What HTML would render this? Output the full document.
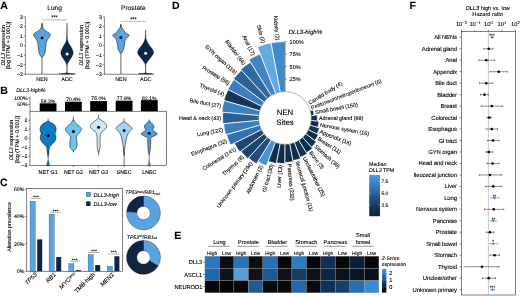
<!DOCTYPE html>
<html><head><meta charset="utf-8"><style>
html,body{margin:0;padding:0;background:#fff;}
svg{display:block;}
text{font-family:"Liberation Sans", Arial, sans-serif;text-rendering:geometricPrecision;stroke:currentColor;stroke-width:0.1px;}
</style></head><body>
<svg width="520" height="296" viewBox="0 0 520 296">
<rect width="520" height="296" fill="#fff"/>
<text x="0.20" y="8.70" font-size="10.6" text-anchor="start" font-weight="bold">A</text>
<text x="0.30" y="93.60" font-size="10.6" text-anchor="start" font-weight="bold">B</text>
<text x="0.10" y="185.70" font-size="10.6" text-anchor="start" font-weight="bold">C</text>
<text x="172.00" y="8.90" font-size="10.6" text-anchor="start" font-weight="bold">D</text>
<text x="174.30" y="239.30" font-size="10.6" text-anchor="start" font-weight="bold">E</text>
<text x="409.40" y="8.80" font-size="10.6" text-anchor="start" font-weight="bold">F</text>
<line x1="25.40" y1="16.70" x2="25.40" y2="74.50" stroke="#000" stroke-width="0.5"/>
<line x1="23.80" y1="16.95" x2="25.40" y2="16.95" stroke="#000" stroke-width="0.45"/>
<text x="23.00" y="18.80" font-size="5.2" text-anchor="end">3</text>
<line x1="23.80" y1="26.50" x2="25.40" y2="26.50" stroke="#000" stroke-width="0.45"/>
<text x="23.00" y="28.35" font-size="5.2" text-anchor="end">2</text>
<line x1="23.80" y1="36.05" x2="25.40" y2="36.05" stroke="#000" stroke-width="0.45"/>
<text x="23.00" y="37.90" font-size="5.2" text-anchor="end">1</text>
<line x1="23.80" y1="45.60" x2="25.40" y2="45.60" stroke="#000" stroke-width="0.45"/>
<text x="23.00" y="47.45" font-size="5.2" text-anchor="end">0</text>
<line x1="23.80" y1="55.15" x2="25.40" y2="55.15" stroke="#000" stroke-width="0.45"/>
<text x="23.00" y="57.00" font-size="5.2" text-anchor="end">&#8722;1</text>
<line x1="23.80" y1="64.70" x2="25.40" y2="64.70" stroke="#000" stroke-width="0.45"/>
<text x="23.00" y="66.55" font-size="5.2" text-anchor="end">&#8722;2</text>
<line x1="23.80" y1="74.25" x2="25.40" y2="74.25" stroke="#000" stroke-width="0.45"/>
<text x="23.00" y="76.10" font-size="5.2" text-anchor="end">&#8722;3</text>
<line x1="25.40" y1="74.25" x2="75.50" y2="74.25" stroke="#000" stroke-width="0.5"/>
<text x="54.60" y="10.00" font-size="6.6" text-anchor="middle">Lung</text>
<line x1="41.70" y1="19.90" x2="67.30" y2="19.90" stroke="#aaa" stroke-width="0.8"/>
<text x="54.50" y="19.05" font-size="5.5" text-anchor="middle">***</text>
<text x="5.00" y="45.30" font-size="5.4" text-anchor="middle" transform="rotate(-90 5.00 45.30)"><tspan font-style="italic">DLL3</tspan> expression</text>
<text x="10.50" y="45.30" font-size="5.5" text-anchor="middle" transform="rotate(-90 10.50 45.30)">[log (TPM + 0.001)]</text>
<text x="42.00" y="80.60" font-size="5.4" text-anchor="middle">NEN</text>
<text x="67.00" y="80.60" font-size="5.4" text-anchor="middle">ADC</text>
<line x1="104.40" y1="16.70" x2="104.40" y2="74.50" stroke="#000" stroke-width="0.5"/>
<line x1="102.80" y1="16.95" x2="104.40" y2="16.95" stroke="#000" stroke-width="0.45"/>
<text x="102.00" y="18.80" font-size="5.2" text-anchor="end">3</text>
<line x1="102.80" y1="26.50" x2="104.40" y2="26.50" stroke="#000" stroke-width="0.45"/>
<text x="102.00" y="28.35" font-size="5.2" text-anchor="end">2</text>
<line x1="102.80" y1="36.05" x2="104.40" y2="36.05" stroke="#000" stroke-width="0.45"/>
<text x="102.00" y="37.90" font-size="5.2" text-anchor="end">1</text>
<line x1="102.80" y1="45.60" x2="104.40" y2="45.60" stroke="#000" stroke-width="0.45"/>
<text x="102.00" y="47.45" font-size="5.2" text-anchor="end">0</text>
<line x1="102.80" y1="55.15" x2="104.40" y2="55.15" stroke="#000" stroke-width="0.45"/>
<text x="102.00" y="57.00" font-size="5.2" text-anchor="end">&#8722;1</text>
<line x1="102.80" y1="64.70" x2="104.40" y2="64.70" stroke="#000" stroke-width="0.45"/>
<text x="102.00" y="66.55" font-size="5.2" text-anchor="end">&#8722;2</text>
<line x1="102.80" y1="74.25" x2="104.40" y2="74.25" stroke="#000" stroke-width="0.45"/>
<text x="102.00" y="76.10" font-size="5.2" text-anchor="end">&#8722;3</text>
<line x1="104.40" y1="74.25" x2="154.30" y2="74.25" stroke="#000" stroke-width="0.5"/>
<text x="133.30" y="10.00" font-size="6.6" text-anchor="middle">Prostate</text>
<line x1="120.60" y1="21.35" x2="146.10" y2="21.35" stroke="#aaa" stroke-width="0.8"/>
<text x="133.35" y="20.50" font-size="5.5" text-anchor="middle">***</text>
<text x="83.20" y="45.30" font-size="5.4" text-anchor="middle" transform="rotate(-90 83.20 45.30)"><tspan font-style="italic">DLL3</tspan> expression</text>
<text x="88.60" y="45.30" font-size="5.5" text-anchor="middle" transform="rotate(-90 88.60 45.30)">[log (TPM + 0.001)]</text>
<text x="120.90" y="80.60" font-size="5.4" text-anchor="middle">NEN</text>
<text x="145.80" y="80.60" font-size="5.4" text-anchor="middle">ADC</text>
<line x1="42.00" y1="22.90" x2="42.00" y2="74.00" stroke="#333" stroke-width="0.75"/>
<path d="M42.00,23.50 C42.08,24.05 42.23,25.88 42.50,26.80 C42.77,27.72 42.98,28.27 43.60,29.00 C44.22,29.73 45.30,30.53 46.20,31.20 C47.10,31.87 48.30,32.43 49.00,33.00 C49.70,33.57 50.25,34.07 50.40,34.60 C50.55,35.13 50.20,35.63 49.90,36.20 C49.60,36.77 49.15,37.12 48.60,38.00 C48.05,38.88 47.03,40.42 46.60,41.50 C46.17,42.58 46.15,43.52 46.00,44.50 C45.85,45.48 45.83,46.27 45.70,47.40 C45.57,48.53 45.40,50.15 45.20,51.30 C45.00,52.45 44.83,53.48 44.50,54.30 C44.17,55.12 43.62,55.68 43.20,56.20 C42.78,56.72 42.20,57.20 42.00,57.40 L42.00,57.40 C41.80,57.20 41.22,56.72 40.80,56.20 C40.38,55.68 39.83,55.12 39.50,54.30 C39.17,53.48 39.00,52.45 38.80,51.30 C38.60,50.15 38.43,48.53 38.30,47.40 C38.17,46.27 38.15,45.48 38.00,44.50 C37.85,43.52 37.83,42.58 37.40,41.50 C36.97,40.42 35.95,38.88 35.40,38.00 C34.85,37.12 34.40,36.77 34.10,36.20 C33.80,35.63 33.45,35.13 33.60,34.60 C33.75,34.07 34.30,33.57 35.00,33.00 C35.70,32.43 36.90,31.87 37.80,31.20 C38.70,30.53 39.78,29.73 40.40,29.00 C41.02,28.27 41.23,27.72 41.50,26.80 C41.77,25.88 41.92,24.05 42.00,23.50 Z" fill="#58a3e0" stroke="#111" stroke-width="0.55" stroke-linejoin="round"/>
<circle cx="42.10" cy="38.00" r="1.45" fill="#000"/>
<path d="M67.00,22.90 C67.02,23.08 67.09,22.82 67.12,24.00 C67.15,25.18 67.17,28.00 67.20,30.00 C67.23,32.00 67.24,34.40 67.30,36.00 C67.36,37.60 67.37,38.52 67.55,39.60 C67.73,40.68 67.96,41.52 68.40,42.50 C68.84,43.48 69.53,44.35 70.20,45.50 C70.87,46.65 71.90,48.10 72.40,49.40 C72.90,50.70 73.32,52.00 73.20,53.30 C73.08,54.60 72.30,56.05 71.70,57.20 C71.10,58.35 70.22,59.22 69.60,60.20 C68.98,61.18 68.38,62.30 68.00,63.10 C67.62,63.90 67.48,64.18 67.35,65.00 C67.22,65.82 67.22,66.83 67.20,68.00 C67.18,69.17 67.12,71.18 67.25,72.00 C67.38,72.82 67.12,72.63 68.00,72.90 C68.88,73.17 71.37,73.42 72.50,73.60 C73.63,73.78 75.72,73.92 74.80,74.00 C73.88,74.08 68.30,74.08 67.00,74.10 L67.00,74.10 C65.70,74.08 60.12,74.08 59.20,74.00 C58.28,73.92 60.37,73.78 61.50,73.60 C62.63,73.42 65.12,73.17 66.00,72.90 C66.88,72.63 66.62,72.82 66.75,72.00 C66.88,71.18 66.82,69.17 66.80,68.00 C66.78,66.83 66.78,65.82 66.65,65.00 C66.52,64.18 66.38,63.90 66.00,63.10 C65.62,62.30 65.02,61.18 64.40,60.20 C63.78,59.22 62.90,58.35 62.30,57.20 C61.70,56.05 60.92,54.60 60.80,53.30 C60.68,52.00 61.10,50.70 61.60,49.40 C62.10,48.10 63.13,46.65 63.80,45.50 C64.47,44.35 65.16,43.48 65.60,42.50 C66.04,41.52 66.27,40.68 66.45,39.60 C66.63,38.52 66.64,37.60 66.70,36.00 C66.76,34.40 66.77,32.00 66.80,30.00 C66.83,28.00 66.85,25.18 66.88,24.00 C66.91,22.82 66.98,23.08 67.00,22.90 Z" fill="#0f2742" stroke="#111" stroke-width="0.3" stroke-linejoin="round"/>
<circle cx="67.10" cy="53.90" r="1.50" fill="#fff"/>
<line x1="120.90" y1="23.90" x2="120.90" y2="74.00" stroke="#333" stroke-width="0.75"/>
<path d="M120.90,24.50 C120.98,24.88 120.98,25.92 121.40,26.80 C121.82,27.68 122.72,28.82 123.40,29.80 C124.08,30.78 124.57,31.85 125.50,32.70 C126.43,33.55 128.63,34.18 129.00,34.90 C129.37,35.62 128.22,36.32 127.70,37.00 C127.18,37.68 126.33,38.37 125.90,39.00 C125.47,39.63 125.32,40.05 125.10,40.80 C124.88,41.55 124.77,42.57 124.60,43.50 C124.43,44.43 124.28,45.42 124.10,46.40 C123.92,47.38 123.85,48.42 123.50,49.40 C123.15,50.38 122.43,51.62 122.00,52.30 C121.57,52.98 121.08,53.30 120.90,53.50 L120.90,53.50 C120.72,53.30 120.23,52.98 119.80,52.30 C119.37,51.62 118.65,50.38 118.30,49.40 C117.95,48.42 117.88,47.38 117.70,46.40 C117.52,45.42 117.37,44.43 117.20,43.50 C117.03,42.57 116.92,41.55 116.70,40.80 C116.48,40.05 116.33,39.63 115.90,39.00 C115.47,38.37 114.62,37.68 114.10,37.00 C113.58,36.32 112.43,35.62 112.80,34.90 C113.17,34.18 115.37,33.55 116.30,32.70 C117.23,31.85 117.72,30.78 118.40,29.80 C119.08,28.82 119.98,27.68 120.40,26.80 C120.82,25.92 120.82,24.88 120.90,24.50 Z" fill="#58a3e0" stroke="#111" stroke-width="0.55" stroke-linejoin="round"/>
<circle cx="120.90" cy="37.60" r="1.45" fill="#000"/>
<path d="M145.60,29.80 C145.62,30.00 145.68,30.13 145.72,31.00 C145.76,31.87 145.79,33.73 145.85,35.00 C145.91,36.27 145.81,37.35 146.10,38.60 C146.39,39.85 147.02,41.35 147.60,42.50 C148.18,43.65 148.77,44.35 149.60,45.50 C150.43,46.65 151.93,48.17 152.60,49.40 C153.27,50.63 153.77,51.77 153.60,52.90 C153.43,54.03 152.35,55.08 151.60,56.20 C150.85,57.32 149.90,58.52 149.10,59.60 C148.30,60.68 147.32,61.88 146.80,62.70 C146.27,63.52 146.12,63.62 145.95,64.50 C145.78,65.38 145.82,66.72 145.80,68.00 C145.78,69.28 145.73,71.37 145.85,72.20 C145.97,73.03 145.74,72.77 146.50,73.00 C147.26,73.23 149.40,73.43 150.40,73.60 C151.40,73.77 153.30,73.92 152.50,74.00 C151.70,74.08 146.75,74.08 145.60,74.10 L145.60,74.10 C144.45,74.08 139.50,74.08 138.70,74.00 C137.90,73.92 139.80,73.77 140.80,73.60 C141.80,73.43 143.94,73.23 144.70,73.00 C145.46,72.77 145.23,73.03 145.35,72.20 C145.47,71.37 145.42,69.28 145.40,68.00 C145.38,66.72 145.42,65.38 145.25,64.50 C145.08,63.62 144.93,63.52 144.40,62.70 C143.88,61.88 142.90,60.68 142.10,59.60 C141.30,58.52 140.35,57.32 139.60,56.20 C138.85,55.08 137.77,54.03 137.60,52.90 C137.43,51.77 137.93,50.63 138.60,49.40 C139.27,48.17 140.77,46.65 141.60,45.50 C142.43,44.35 143.02,43.65 143.60,42.50 C144.18,41.35 144.81,39.85 145.10,38.60 C145.39,37.35 145.29,36.27 145.35,35.00 C145.41,33.73 145.44,31.87 145.48,31.00 C145.52,30.13 145.58,30.00 145.60,29.80 Z" fill="#0f2742" stroke="#111" stroke-width="0.3" stroke-linejoin="round"/>
<circle cx="145.60" cy="53.30" r="1.50" fill="#fff"/>
<text x="16.30" y="92.30" font-size="5.3" text-anchor="start" font-style="italic">DLL3-high%</text>
<line x1="30.00" y1="96.50" x2="30.00" y2="111.20" stroke="#000" stroke-width="0.5"/>
<line x1="28.40" y1="97.75" x2="30.00" y2="97.75" stroke="#000" stroke-width="0.45"/>
<text x="27.60" y="99.55" font-size="5.2" text-anchor="end">100%</text>
<line x1="28.40" y1="104.50" x2="30.00" y2="104.50" stroke="#000" stroke-width="0.45"/>
<text x="27.60" y="106.30" font-size="5.2" text-anchor="end">50%</text>
<rect x="39.70" y="103.33" width="16.80" height="7.87" fill="#000"/>
<text x="48.10" y="102.73" font-size="5.1" text-anchor="middle">58.3%</text>
<rect x="65.00" y="101.70" width="16.80" height="9.50" fill="#000"/>
<text x="73.40" y="101.10" font-size="5.1" text-anchor="middle">70.4%</text>
<rect x="90.20" y="101.08" width="16.80" height="10.12" fill="#000"/>
<text x="98.60" y="100.48" font-size="5.1" text-anchor="middle">75.0%</text>
<rect x="115.70" y="100.70" width="16.80" height="10.50" fill="#000"/>
<text x="124.10" y="100.10" font-size="5.1" text-anchor="middle">77.8%</text>
<rect x="140.90" y="100.12" width="16.80" height="11.08" fill="#000"/>
<text x="149.30" y="99.52" font-size="5.1" text-anchor="middle">82.1%</text>
<rect x="30" y="111.2" width="136.6" height="54.3" fill="none" stroke="#000" stroke-width="0.5"/>
<line x1="28.40" y1="120.30" x2="30.00" y2="120.30" stroke="#000" stroke-width="0.45"/>
<text x="27.40" y="122.15" font-size="5.2" text-anchor="end">2</text>
<line x1="28.40" y1="129.30" x2="30.00" y2="129.30" stroke="#000" stroke-width="0.45"/>
<text x="27.40" y="131.15" font-size="5.2" text-anchor="end">1</text>
<line x1="28.40" y1="138.30" x2="30.00" y2="138.30" stroke="#000" stroke-width="0.45"/>
<text x="27.40" y="140.15" font-size="5.2" text-anchor="end">0</text>
<line x1="28.40" y1="147.30" x2="30.00" y2="147.30" stroke="#000" stroke-width="0.45"/>
<text x="27.40" y="149.15" font-size="5.2" text-anchor="end">&#8722;1</text>
<line x1="28.40" y1="156.30" x2="30.00" y2="156.30" stroke="#000" stroke-width="0.45"/>
<text x="27.40" y="158.15" font-size="5.2" text-anchor="end">&#8722;2</text>
<line x1="28.40" y1="165.30" x2="30.00" y2="165.30" stroke="#000" stroke-width="0.45"/>
<text x="27.40" y="167.15" font-size="5.2" text-anchor="end">&#8722;3</text>
<text x="12.80" y="139.90" font-size="5.4" text-anchor="middle" transform="rotate(-90 12.80 139.90)"><tspan font-style="italic">DLL3</tspan> expression</text>
<text x="18.60" y="139.50" font-size="5.5" text-anchor="middle" transform="rotate(-90 18.60 139.50)">[log (TPM + 0.001)]</text>
<text x="48.10" y="174.20" font-size="5.3" text-anchor="middle">NET G1</text>
<line x1="48.10" y1="165.50" x2="48.10" y2="167.00" stroke="#000" stroke-width="0.45"/>
<text x="73.40" y="174.20" font-size="5.3" text-anchor="middle">NET G2</text>
<line x1="73.40" y1="165.50" x2="73.40" y2="167.00" stroke="#000" stroke-width="0.45"/>
<text x="98.60" y="174.20" font-size="5.3" text-anchor="middle">NET G3</text>
<line x1="98.60" y1="165.50" x2="98.60" y2="167.00" stroke="#000" stroke-width="0.45"/>
<text x="124.10" y="174.20" font-size="5.3" text-anchor="middle">SNEC</text>
<line x1="124.10" y1="165.50" x2="124.10" y2="167.00" stroke="#000" stroke-width="0.45"/>
<text x="149.30" y="174.20" font-size="5.3" text-anchor="middle">LNEC</text>
<line x1="149.30" y1="165.50" x2="149.30" y2="167.00" stroke="#000" stroke-width="0.45"/>
<line x1="48.10" y1="118.50" x2="48.10" y2="165.50" stroke="#333" stroke-width="0.7"/>
<path d="M48.10,121.00 C48.27,121.10 48.48,121.25 49.10,121.60 C49.72,121.95 50.88,122.53 51.80,123.10 C52.72,123.67 53.92,124.22 54.60,125.00 C55.28,125.78 55.65,126.88 55.90,127.80 C56.15,128.72 56.23,129.58 56.10,130.50 C55.97,131.42 55.20,132.52 55.10,133.30 C55.00,134.08 55.35,134.42 55.50,135.20 C55.65,135.98 56.15,136.92 56.00,138.00 C55.85,139.08 55.30,140.62 54.60,141.70 C53.90,142.78 52.63,143.57 51.80,144.50 C50.97,145.43 50.07,146.22 49.60,147.30 C49.13,148.38 49.18,149.77 49.00,151.00 C48.82,152.23 48.65,153.78 48.50,154.70 C48.35,155.62 48.17,156.20 48.10,156.50 L48.10,156.50 C48.03,156.20 47.85,155.62 47.70,154.70 C47.55,153.78 47.38,152.23 47.20,151.00 C47.02,149.77 47.07,148.38 46.60,147.30 C46.13,146.22 45.23,145.43 44.40,144.50 C43.57,143.57 42.30,142.78 41.60,141.70 C40.90,140.62 40.35,139.08 40.20,138.00 C40.05,136.92 40.55,135.98 40.70,135.20 C40.85,134.42 41.20,134.08 41.10,133.30 C41.00,132.52 40.23,131.42 40.10,130.50 C39.97,129.58 40.05,128.72 40.30,127.80 C40.55,126.88 40.92,125.78 41.60,125.00 C42.28,124.22 43.48,123.67 44.40,123.10 C45.32,122.53 46.48,121.95 47.10,121.60 C47.72,121.25 47.93,121.10 48.10,121.00 Z" fill="#0c7bc4" stroke="#111" stroke-width="0.55" stroke-linejoin="round"/>
<path d="M48.10,160.30 C48.22,160.67 48.53,161.72 48.80,162.50 C49.07,163.28 49.82,164.52 49.70,165.00 C49.58,165.48 48.37,165.33 48.10,165.40 L48.10,165.40 C47.83,165.33 46.62,165.48 46.50,165.00 C46.38,164.52 47.13,163.28 47.40,162.50 C47.67,161.72 47.98,160.67 48.10,160.30 Z" fill="#0c7bc4" stroke="#111" stroke-width="0.3" stroke-linejoin="round"/>
<circle cx="48.10" cy="135.60" r="1.55" fill="#000"/>
<line x1="73.40" y1="116.60" x2="73.40" y2="152.50" stroke="#333" stroke-width="0.7"/>
<path d="M73.40,119.50 C73.50,119.63 73.63,119.70 74.00,120.30 C74.37,120.90 74.77,122.17 75.60,123.10 C76.43,124.03 78.03,124.97 79.00,125.90 C79.97,126.83 81.17,127.77 81.40,128.70 C81.63,129.63 80.97,130.57 80.40,131.50 C79.83,132.43 78.70,133.38 78.00,134.30 C77.30,135.22 76.43,136.08 76.20,137.00 C75.97,137.92 76.45,138.72 76.60,139.80 C76.75,140.88 77.08,142.25 77.10,143.50 C77.12,144.75 77.00,146.37 76.70,147.30 C76.40,148.23 75.78,148.52 75.30,149.10 C74.82,149.68 74.12,150.40 73.80,150.80 C73.48,151.20 73.47,151.38 73.40,151.50 L73.40,151.50 C73.33,151.38 73.32,151.20 73.00,150.80 C72.68,150.40 71.98,149.68 71.50,149.10 C71.02,148.52 70.40,148.23 70.10,147.30 C69.80,146.37 69.68,144.75 69.70,143.50 C69.72,142.25 70.05,140.88 70.20,139.80 C70.35,138.72 70.83,137.92 70.60,137.00 C70.37,136.08 69.50,135.22 68.80,134.30 C68.10,133.38 66.97,132.43 66.40,131.50 C65.83,130.57 65.17,129.63 65.40,128.70 C65.63,127.77 66.83,126.83 67.80,125.90 C68.77,124.97 70.37,124.03 71.20,123.10 C72.03,122.17 72.43,120.90 72.80,120.30 C73.17,119.70 73.30,119.63 73.40,119.50 Z" fill="#6fc3ef" stroke="#111" stroke-width="0.55" stroke-linejoin="round"/>
<circle cx="73.40" cy="131.50" r="1.50" fill="#000"/>
<line x1="98.60" y1="114.80" x2="98.60" y2="155.60" stroke="#333" stroke-width="0.7"/>
<path d="M98.60,117.80 C98.70,117.92 98.73,118.08 99.20,118.50 C99.67,118.92 100.42,119.53 101.40,120.30 C102.38,121.07 104.18,122.17 105.10,123.10 C106.02,124.03 106.82,124.97 106.90,125.90 C106.98,126.83 106.37,127.77 105.60,128.70 C104.83,129.63 103.15,130.57 102.30,131.50 C101.45,132.43 100.87,132.92 100.50,134.30 C100.13,135.68 100.17,137.95 100.10,139.80 C100.03,141.65 100.17,143.85 100.10,145.40 C100.03,146.95 99.88,148.02 99.70,149.10 C99.52,150.18 99.18,151.33 99.00,151.90 C98.82,152.47 98.67,152.40 98.60,152.50 L98.60,152.50 C98.53,152.40 98.38,152.47 98.20,151.90 C98.02,151.33 97.68,150.18 97.50,149.10 C97.32,148.02 97.17,146.95 97.10,145.40 C97.03,143.85 97.17,141.65 97.10,139.80 C97.03,137.95 97.07,135.68 96.70,134.30 C96.33,132.92 95.75,132.43 94.90,131.50 C94.05,130.57 92.37,129.63 91.60,128.70 C90.83,127.77 90.22,126.83 90.30,125.90 C90.38,124.97 91.18,124.03 92.10,123.10 C93.02,122.17 94.82,121.07 95.80,120.30 C96.78,119.53 97.53,118.92 98.00,118.50 C98.47,118.08 98.50,117.92 98.60,117.80 Z" fill="#cde7f8" stroke="#111" stroke-width="0.55" stroke-linejoin="round"/>
<circle cx="98.60" cy="127.20" r="1.50" fill="#000"/>
<line x1="124.10" y1="118.50" x2="124.10" y2="165.50" stroke="#333" stroke-width="0.7"/>
<path d="M124.10,121.50 C124.25,121.62 124.38,121.78 125.00,122.20 C125.62,122.62 126.87,123.28 127.80,124.00 C128.73,124.72 129.83,125.78 130.60,126.50 C131.37,127.22 132.43,127.62 132.40,128.30 C132.37,128.98 131.08,129.77 130.40,130.60 C129.72,131.43 128.90,132.23 128.30,133.30 C127.70,134.37 127.20,135.75 126.80,137.00 C126.40,138.25 126.15,139.55 125.90,140.80 C125.65,142.05 125.48,143.30 125.30,144.50 C125.12,145.70 124.93,146.75 124.80,148.00 C124.67,149.25 124.62,150.75 124.50,152.00 C124.38,153.25 124.17,154.92 124.10,155.50 L124.10,155.50 C124.03,154.92 123.82,153.25 123.70,152.00 C123.58,150.75 123.53,149.25 123.40,148.00 C123.27,146.75 123.08,145.70 122.90,144.50 C122.72,143.30 122.55,142.05 122.30,140.80 C122.05,139.55 121.80,138.25 121.40,137.00 C121.00,135.75 120.50,134.37 119.90,133.30 C119.30,132.23 118.48,131.43 117.80,130.60 C117.12,129.77 115.83,128.98 115.80,128.30 C115.77,127.62 116.83,127.22 117.60,126.50 C118.37,125.78 119.47,124.72 120.40,124.00 C121.33,123.28 122.58,122.62 123.20,122.20 C123.82,121.78 123.95,121.62 124.10,121.50 Z" fill="#a7d2f1" stroke="#111" stroke-width="0.55" stroke-linejoin="round"/>
<circle cx="124.10" cy="130.60" r="1.50" fill="#000"/>
<line x1="149.20" y1="119.40" x2="149.20" y2="165.50" stroke="#333" stroke-width="0.7"/>
<path d="M149.20,121.00 C149.35,121.10 149.63,121.18 150.10,121.60 C150.57,122.02 151.35,122.78 152.00,123.50 C152.65,124.22 153.78,125.03 154.00,125.90 C154.22,126.77 153.48,127.98 153.30,128.70 C153.12,129.42 152.62,129.65 152.90,130.20 C153.18,130.75 154.27,131.38 155.00,132.00 C155.73,132.62 157.33,133.28 157.30,133.90 C157.27,134.52 155.83,135.08 154.80,135.70 C153.77,136.32 151.77,136.92 151.10,137.60 C150.43,138.28 150.88,138.50 150.80,139.80 C150.72,141.10 150.70,143.70 150.60,145.40 C150.50,147.10 150.37,148.73 150.20,150.00 C150.03,151.27 149.77,152.25 149.60,153.00 C149.43,153.75 149.27,154.25 149.20,154.50 L149.20,154.50 C149.13,154.25 148.97,153.75 148.80,153.00 C148.63,152.25 148.37,151.27 148.20,150.00 C148.03,148.73 147.90,147.10 147.80,145.40 C147.70,143.70 147.68,141.10 147.60,139.80 C147.52,138.50 147.97,138.28 147.30,137.60 C146.63,136.92 144.63,136.32 143.60,135.70 C142.57,135.08 141.13,134.52 141.10,133.90 C141.07,133.28 142.67,132.62 143.40,132.00 C144.13,131.38 145.22,130.75 145.50,130.20 C145.78,129.65 145.28,129.42 145.10,128.70 C144.92,127.98 144.18,126.77 144.40,125.90 C144.62,125.03 145.75,124.22 146.40,123.50 C147.05,122.78 147.83,122.02 148.30,121.60 C148.77,121.18 149.05,121.10 149.20,121.00 Z" fill="#559dda" stroke="#111" stroke-width="0.55" stroke-linejoin="round"/>
<path d="M149.20,161.80 C149.33,162.08 149.77,162.93 150.00,163.50 C150.23,164.07 150.73,164.88 150.60,165.20 C150.47,165.52 149.43,165.37 149.20,165.40 L149.20,165.40 C148.97,165.37 147.93,165.52 147.80,165.20 C147.67,164.88 148.17,164.07 148.40,163.50 C148.63,162.93 149.07,162.08 149.20,161.80 Z" fill="#559dda" stroke="#111" stroke-width="0.3" stroke-linejoin="round"/>
<circle cx="149.20" cy="133.30" r="1.55" fill="#000"/>
<rect x="26.8" y="188.7" width="95.6" height="82.5" fill="none" stroke="#000" stroke-width="0.5"/>
<line x1="25.20" y1="188.90" x2="26.80" y2="188.90" stroke="#000" stroke-width="0.45"/>
<text x="24.30" y="190.70" font-size="5.2" text-anchor="end">60%</text>
<line x1="25.20" y1="216.33" x2="26.80" y2="216.33" stroke="#000" stroke-width="0.45"/>
<text x="24.30" y="218.13" font-size="5.2" text-anchor="end">40%</text>
<line x1="25.20" y1="243.77" x2="26.80" y2="243.77" stroke="#000" stroke-width="0.45"/>
<text x="24.30" y="245.57" font-size="5.2" text-anchor="end">20%</text>
<line x1="25.20" y1="271.20" x2="26.80" y2="271.20" stroke="#000" stroke-width="0.45"/>
<text x="24.30" y="273.00" font-size="5.2" text-anchor="end">0%</text>
<text x="10.70" y="227.00" font-size="5.3" text-anchor="middle" transform="rotate(-90 10.70 227.00)">Alteration prevalence</text>
<rect x="30.10" y="201.25" width="5.10" height="69.95" fill="#59a3df" stroke="#1d4e7a" stroke-width="0.35"/>
<rect x="37.20" y="239.38" width="5.00" height="31.82" fill="#0f2440"/>
<line x1="36.15" y1="271.20" x2="36.15" y2="272.80" stroke="#000" stroke-width="0.45"/>
<rect x="49.10" y="214.14" width="5.10" height="57.06" fill="#59a3df" stroke="#1d4e7a" stroke-width="0.35"/>
<rect x="56.20" y="257.07" width="5.00" height="14.13" fill="#0f2440"/>
<line x1="55.15" y1="271.20" x2="55.15" y2="272.80" stroke="#000" stroke-width="0.45"/>
<rect x="68.80" y="263.79" width="5.10" height="7.41" fill="#59a3df" stroke="#1d4e7a" stroke-width="0.35"/>
<rect x="75.90" y="270.10" width="5.00" height="1.10" fill="#0f2440"/>
<line x1="74.85" y1="271.20" x2="74.85" y2="272.80" stroke="#000" stroke-width="0.45"/>
<rect x="88.10" y="254.60" width="5.10" height="16.60" fill="#59a3df" stroke="#1d4e7a" stroke-width="0.35"/>
<rect x="95.20" y="265.03" width="5.00" height="6.17" fill="#0f2440"/>
<line x1="94.15" y1="271.20" x2="94.15" y2="272.80" stroke="#000" stroke-width="0.45"/>
<rect x="107.30" y="266.26" width="5.10" height="4.94" fill="#59a3df" stroke="#1d4e7a" stroke-width="0.35"/>
<rect x="114.40" y="256.25" width="5.00" height="14.95" fill="#0f2440"/>
<line x1="113.35" y1="271.20" x2="113.35" y2="272.80" stroke="#000" stroke-width="0.45"/>
<line x1="30.50" y1="198.50" x2="41.30" y2="198.50" stroke="#999" stroke-width="0.7"/>
<text x="35.90" y="198.90" font-size="5.1" text-anchor="middle">***</text>
<line x1="50.00" y1="212.20" x2="60.80" y2="212.20" stroke="#999" stroke-width="0.7"/>
<text x="55.40" y="212.60" font-size="5.1" text-anchor="middle">***</text>
<line x1="69.50" y1="261.20" x2="80.00" y2="261.20" stroke="#999" stroke-width="0.7"/>
<text x="74.75" y="261.60" font-size="5.1" text-anchor="middle">***</text>
<line x1="88.30" y1="252.50" x2="99.50" y2="252.50" stroke="#999" stroke-width="0.7"/>
<text x="93.90" y="252.90" font-size="5.1" text-anchor="middle">***</text>
<line x1="108.20" y1="254.00" x2="119.50" y2="254.00" stroke="#999" stroke-width="0.7"/>
<text x="113.85" y="254.40" font-size="5.1" text-anchor="middle">***</text>
<text x="37.40" y="275.00" font-size="6.0" text-anchor="end" transform="rotate(-45 37.40 275.00)"><tspan font-style="italic">TP53</tspan></text>
<text x="56.40" y="275.00" font-size="6.0" text-anchor="end" transform="rotate(-45 56.40 275.00)"><tspan font-style="italic">RB1</tspan></text>
<text x="76.00" y="275.00" font-size="6.0" text-anchor="end" transform="rotate(-45 76.00 275.00)"><tspan font-style="italic">MYC</tspan><tspan font-size="3.6" dy="-1.6">amp</tspan></text>
<text x="95.30" y="275.00" font-size="6.0" text-anchor="end" transform="rotate(-45 95.30 275.00)">TMB-high</text>
<text x="114.60" y="275.00" font-size="6.0" text-anchor="end" transform="rotate(-45 114.60 275.00)"><tspan font-style="italic">MEN1</tspan></text>
<rect x="86.20" y="192.20" width="4.30" height="4.60" fill="#59a3df" stroke="#1d4e7a" stroke-width="0.35"/>
<rect x="86.20" y="201.40" width="4.30" height="4.60" fill="#0f2440"/>
<text x="93.60" y="196.90" font-size="5.5" text-anchor="start" font-style="italic">DLL3-high</text>
<text x="93.60" y="206.10" font-size="5.5" text-anchor="start" font-style="italic">DLL3-low</text>
<path d="M143.50,196.10 A16.9,16.9 0 1 1 126.68,211.41 L136.83,212.37 A6.7,6.7 0 1 0 143.50,206.30 Z" fill="#59a3df" stroke="#1a1a1a" stroke-width="0.35"/>
<path d="M126.68,211.41 A16.9,16.9 0 0 1 143.50,196.10 L143.50,206.30 A6.7,6.7 0 0 0 136.83,212.37 Z" fill="#0f2440" stroke="#1a1a1a" stroke-width="0.35"/>
<path d="M143.50,240.50 A16.9,16.9 0 0 1 158.05,266.00 L149.27,260.81 A6.7,6.7 0 0 0 143.50,250.70 Z" fill="#59a3df" stroke="#1a1a1a" stroke-width="0.35"/>
<path d="M158.05,266.00 A16.9,16.9 0 1 1 143.50,240.50 L143.50,250.70 A6.7,6.7 0 1 0 149.27,260.81 Z" fill="#0f2440" stroke="#1a1a1a" stroke-width="0.35"/>
<text x="125.30" y="194.30" font-size="5.1" text-anchor="start"><tspan font-style="italic">TP53</tspan><tspan font-size="3.4" dy="-1.5">mut</tspan><tspan dy="1.5">/</tspan><tspan font-style="italic">RB1</tspan><tspan font-size="3.4" dy="0.6">mut</tspan></text>
<text x="126.80" y="238.70" font-size="5.1" text-anchor="start"><tspan font-style="italic">TP53</tspan><tspan font-size="3.4" dy="-1.5">wt</tspan><tspan dy="1.5">/</tspan><tspan font-style="italic">RB1</tspan><tspan font-size="3.4" dy="0.6">wt</tspan></text>
<path d="M285.00,92.60 L285.00,41.60 A76.40,76.40 0 0 0 270.96,42.90 L280.33,93.03 Z" fill="#3d8bd0" stroke="#fff" stroke-width="0.75" stroke-linejoin="miter"/>
<path d="M280.33,93.03 L270.96,42.90 A76.40,76.40 0 0 0 257.40,46.76 L275.82,94.32 Z" fill="#64aae1" stroke="#fff" stroke-width="0.75" stroke-linejoin="miter"/>
<path d="M275.82,94.32 L260.20,53.99 A68.65,68.65 0 0 0 248.86,59.63 L271.63,96.40 Z" fill="#3f84c4" stroke="#fff" stroke-width="0.75" stroke-linejoin="miter"/>
<path d="M271.63,96.40 L250.44,62.18 A65.65,65.65 0 0 0 240.77,69.48 L267.89,99.23 Z" fill="#2f6ba3" stroke="#fff" stroke-width="0.75" stroke-linejoin="miter"/>
<path d="M267.89,99.23 L241.45,70.22 A64.65,64.65 0 0 0 233.41,79.04 L264.73,102.69 Z" fill="#2b6298" stroke="#fff" stroke-width="0.75" stroke-linejoin="miter"/>
<path d="M264.73,102.69 L234.01,79.49 A63.90,63.90 0 0 0 227.80,89.52 L262.26,106.68 Z" fill="#3b7fc0" stroke="#fff" stroke-width="0.75" stroke-linejoin="miter"/>
<path d="M262.26,106.68 L228.02,89.63 A63.65,63.65 0 0 0 223.78,100.58 L260.57,111.05 Z" fill="#17355a" stroke="#fff" stroke-width="0.75" stroke-linejoin="miter"/>
<path d="M260.57,111.05 L224.02,100.65 A63.40,63.40 0 0 0 221.87,112.15 L259.71,115.66 Z" fill="#3b80c1" stroke="#fff" stroke-width="0.75" stroke-linejoin="miter"/>
<path d="M259.71,115.66 L222.82,112.24 A62.45,62.45 0 0 0 222.82,123.76 L259.71,120.34 Z" fill="#2a5f94" stroke="#fff" stroke-width="0.75" stroke-linejoin="miter"/>
<path d="M259.71,120.34 L223.61,123.69 A61.65,61.65 0 0 0 225.70,134.87 L260.57,124.95 Z" fill="#3a7ebe" stroke="#fff" stroke-width="0.75" stroke-linejoin="miter"/>
<path d="M260.57,124.95 L226.52,134.64 A60.80,60.80 0 0 0 230.57,145.10 L262.26,129.32 Z" fill="#3272b0" stroke="#fff" stroke-width="0.75" stroke-linejoin="miter"/>
<path d="M262.26,129.32 L234.38,143.21 A56.55,56.55 0 0 0 239.87,152.08 L264.73,133.31 Z" fill="#1e4773" stroke="#fff" stroke-width="0.75" stroke-linejoin="miter"/>
<path d="M264.73,133.31 L240.99,151.24 A55.15,55.15 0 0 0 247.85,158.76 L267.89,136.77 Z" fill="#1d446e" stroke="#fff" stroke-width="0.75" stroke-linejoin="miter"/>
<path d="M267.89,136.77 L248.52,158.02 A54.15,54.15 0 0 0 256.49,164.04 L271.63,139.60 Z" fill="#224d7c" stroke="#fff" stroke-width="0.75" stroke-linejoin="miter"/>
<path d="M271.63,139.60 L257.94,161.70 A51.40,51.40 0 0 0 266.43,165.93 L275.82,141.68 Z" fill="#4a92d2" stroke="#fff" stroke-width="0.75" stroke-linejoin="miter"/>
<path d="M275.82,141.68 L268.24,161.27 A46.40,46.40 0 0 0 276.47,163.61 L280.33,142.97 Z" fill="#12304f" stroke="#fff" stroke-width="0.75" stroke-linejoin="miter"/>
<path d="M280.33,142.97 L276.61,162.87 A45.65,45.65 0 0 0 285.00,163.65 L285.00,143.40 Z" fill="#112c4a" stroke="#fff" stroke-width="0.75" stroke-linejoin="miter"/>
<path d="M285.00,143.40 L285.00,162.50 A44.50,44.50 0 0 0 293.18,161.74 L289.67,142.97 Z" fill="#12304f" stroke="#fff" stroke-width="0.75" stroke-linejoin="miter"/>
<path d="M289.67,142.97 L292.97,160.66 A43.40,43.40 0 0 0 300.68,158.47 L294.18,141.68 Z" fill="#112d4b" stroke="#fff" stroke-width="0.75" stroke-linejoin="miter"/>
<path d="M294.18,141.68 L300.23,157.30 A42.15,42.15 0 0 0 307.19,153.84 L298.37,139.60 Z" fill="#12304f" stroke="#fff" stroke-width="0.75" stroke-linejoin="miter"/>
<path d="M298.37,139.60 L306.53,152.77 A40.90,40.90 0 0 0 312.55,148.23 L302.11,136.77 Z" fill="#112c4a" stroke="#fff" stroke-width="0.75" stroke-linejoin="miter"/>
<path d="M302.11,136.77 L311.54,147.12 A39.40,39.40 0 0 0 316.44,141.74 L305.27,133.31 Z" fill="#12304f" stroke="#fff" stroke-width="0.75" stroke-linejoin="miter"/>
<path d="M305.27,133.31 L314.85,140.54 A37.40,37.40 0 0 0 318.48,134.67 L307.74,129.32 Z" fill="#112c4a" stroke="#fff" stroke-width="0.75" stroke-linejoin="miter"/>
<path d="M307.74,129.32 L317.14,134.00 A35.90,35.90 0 0 0 319.53,127.82 L309.43,124.95 Z" fill="#12304f" stroke="#fff" stroke-width="0.75" stroke-linejoin="miter"/>
<path d="M309.43,124.95 L317.85,127.35 A34.15,34.15 0 0 0 319.00,121.15 L310.29,120.34 Z" fill="#112c4a" stroke="#fff" stroke-width="0.75" stroke-linejoin="miter"/>
<path d="M310.29,120.34 L317.26,120.99 A32.40,32.40 0 0 0 317.26,115.01 L310.29,115.66 Z" fill="#12304f" stroke="#fff" stroke-width="0.75" stroke-linejoin="miter"/>
<path d="M310.29,115.66 L314.03,115.31 A29.15,29.15 0 0 0 313.04,110.02 L309.43,111.05 Z" fill="#0f2946" stroke="#fff" stroke-width="0.75" stroke-linejoin="miter"/>
<circle cx="285.0" cy="118.0" r="26.40" fill="#fff" stroke="#777" stroke-width="0.5"/>
<text x="285.00" y="115.40" font-size="7.8" text-anchor="middle">NEN</text>
<text x="285.00" y="124.90" font-size="7.8" text-anchor="middle">Sites</text>
<text x="277.80" y="40.33" font-size="5.4" text-anchor="end" dy="0.35em" transform="rotate(84.71 277.80 40.33)">Kidney (2)</text>
<text x="263.65" y="42.98" font-size="5.4" text-anchor="end" dy="0.35em" transform="rotate(74.12 263.65 42.98)">Skin (2)</text>
<text x="253.69" y="55.11" font-size="5.4" text-anchor="end" dy="0.35em" transform="rotate(63.53 253.69 55.11)">Anal (17)</text>
<text x="244.47" y="64.33" font-size="5.4" text-anchor="end" dy="0.35em" transform="rotate(52.94 244.47 64.33)">Bladder (66)</text>
<text x="236.04" y="73.37" font-size="5.4" text-anchor="end" dy="0.35em" transform="rotate(42.35 236.04 73.37)">GYN organ (118)</text>
<text x="229.31" y="83.52" font-size="5.4" text-anchor="end" dy="0.35em" transform="rotate(31.76 229.31 83.52)">Prostate (66)</text>
<text x="224.16" y="94.43" font-size="5.4" text-anchor="end" dy="0.35em" transform="rotate(21.18 224.16 94.43)">Thyroid (4)</text>
<text x="221.11" y="106.06" font-size="5.4" text-anchor="end" dy="0.35em" transform="rotate(10.59 221.11 106.06)">Bile duct (27)</text>
<text x="220.95" y="118.00" font-size="5.4" text-anchor="end" dy="0.35em" transform="rotate(0.00 220.95 118.00)">Head &amp; neck (43)</text>
<text x="222.83" y="129.62" font-size="5.4" text-anchor="end" dy="0.35em" transform="rotate(-10.59 222.83 129.62)">Lung (122)</text>
<text x="226.81" y="140.54" font-size="5.4" text-anchor="end" dy="0.35em" transform="rotate(-21.18 226.81 140.54)">Esophagus (32)</text>
<text x="235.56" y="148.61" font-size="5.4" text-anchor="end" dy="0.35em" transform="rotate(-31.76 235.56 148.61)">Colorectal (141)</text>
<text x="243.06" y="156.23" font-size="5.4" text-anchor="end" dy="0.35em" transform="rotate(-42.35 243.06 156.23)">Thymus (8)</text>
<text x="251.40" y="162.49" font-size="5.4" text-anchor="end" dy="0.35em" transform="rotate(-52.94 251.40 162.49)">Unknown primary (294)</text>
<text x="261.38" y="165.44" font-size="5.4" text-anchor="end" dy="0.35em" transform="rotate(-63.53 261.38 165.44)">Abdomen (2)</text>
<text x="271.86" y="164.17" font-size="5.4" text-anchor="end" dy="0.35em" transform="rotate(-74.12 271.86 164.17)">GI tract (30)</text>
<text x="280.64" y="165.05" font-size="5.4" text-anchor="end" dy="0.35em" transform="rotate(-84.71 280.64 165.05)">Liver (13)</text>
<text x="289.25" y="163.90" font-size="5.4" text-anchor="start" dy="0.35em" transform="rotate(84.71 289.25 163.90)">Pancreas (232)</text>
<text x="297.31" y="161.28" font-size="5.4" text-anchor="start" dy="0.35em" transform="rotate(74.12 297.31 161.28)">Ileocecal junction (11)</text>
<text x="304.50" y="157.16" font-size="5.4" text-anchor="start" dy="0.35em" transform="rotate(63.53 304.50 157.16)">Unclear/other (25)</text>
<text x="310.61" y="151.92" font-size="5.4" text-anchor="start" dy="0.35em" transform="rotate(52.94 310.61 151.92)">Bone (3)</text>
<text x="315.30" y="145.62" font-size="5.4" text-anchor="start" dy="0.35em" transform="rotate(42.35 315.30 145.62)">Stomach (38)</text>
<text x="318.16" y="138.53" font-size="5.4" text-anchor="start" dy="0.35em" transform="rotate(31.76 318.16 138.53)">Breast (11)</text>
<text x="319.97" y="131.55" font-size="5.4" text-anchor="start" dy="0.35em" transform="rotate(21.18 319.97 131.55)">Appendix (16)</text>
<text x="320.14" y="124.57" font-size="5.4" text-anchor="start" dy="0.35em" transform="rotate(10.59 320.14 124.57)">Nervous system (16)</text>
<text x="319.00" y="118.00" font-size="5.4" text-anchor="start" dy="0.35em" transform="rotate(-0.00 319.00 118.00)">Adrenal gland (89)</text>
<text x="315.23" y="112.35" font-size="5.4" text-anchor="start" dy="0.35em" transform="rotate(-10.59 315.23 112.35)">Small bowel (150)</text>
<text x="311.11" y="107.89" font-size="5.4" text-anchor="start" dy="0.35em" transform="rotate(-21.18 311.11 107.89)">Peritoneum/retroperitoneum (6)</text>
<text x="308.81" y="103.26" font-size="5.4" text-anchor="start" dy="0.35em" transform="rotate(-31.76 308.81 103.26)">Carotid body (4)</text>
<line x1="285.00" y1="91.60" x2="285.00" y2="41.60" stroke="#000" stroke-width="0.5"/>
<line x1="285.00" y1="79.10" x2="286.60" y2="79.10" stroke="#000" stroke-width="0.45"/>
<text x="289.60" y="81.00" font-size="5.5" text-anchor="start">25%</text>
<line x1="285.00" y1="66.60" x2="286.60" y2="66.60" stroke="#000" stroke-width="0.45"/>
<text x="289.60" y="68.50" font-size="5.5" text-anchor="start">50%</text>
<line x1="285.00" y1="54.10" x2="286.60" y2="54.10" stroke="#000" stroke-width="0.45"/>
<text x="289.60" y="56.00" font-size="5.5" text-anchor="start">75%</text>
<line x1="285.00" y1="41.60" x2="286.60" y2="41.60" stroke="#000" stroke-width="0.45"/>
<text x="289.60" y="43.50" font-size="5.5" text-anchor="start">100%</text>
<text x="288.60" y="34.30" font-size="6.1" text-anchor="start" font-style="italic">DLL3-high%</text>
<defs><linearGradient id="gD" x1="0" y1="0" x2="0" y2="1"><stop offset="0" stop-color="#4c9de2"/><stop offset="0.4" stop-color="#2b6aa6"/><stop offset="0.75" stop-color="#173a62"/><stop offset="1" stop-color="#0c2038"/></linearGradient><linearGradient id="gE" x1="0" y1="0" x2="0" y2="1"><stop offset="0" stop-color="#4d9ae6"/><stop offset="0.45" stop-color="#1f5a98"/><stop offset="0.8" stop-color="#0b1422"/><stop offset="1" stop-color="#000"/></linearGradient></defs>
<rect x="369.20" y="174.90" width="10.80" height="41.30" fill="url(#gD)"/>
<line x1="369.20" y1="181.60" x2="370.60" y2="181.60" stroke="#fff" stroke-width="0.4"/>
<line x1="378.60" y1="181.60" x2="380.00" y2="181.60" stroke="#fff" stroke-width="0.4"/>
<text x="381.40" y="183.40" font-size="5.0" text-anchor="start">7.5</text>
<line x1="369.20" y1="193.20" x2="370.60" y2="193.20" stroke="#fff" stroke-width="0.4"/>
<line x1="378.60" y1="193.20" x2="380.00" y2="193.20" stroke="#fff" stroke-width="0.4"/>
<text x="381.40" y="195.00" font-size="5.0" text-anchor="start">5.0</text>
<line x1="369.20" y1="204.90" x2="370.60" y2="204.90" stroke="#fff" stroke-width="0.4"/>
<line x1="378.60" y1="204.90" x2="380.00" y2="204.90" stroke="#fff" stroke-width="0.4"/>
<text x="381.40" y="206.70" font-size="5.0" text-anchor="start">2.5</text>
<text x="369.00" y="166.00" font-size="5.3" text-anchor="start">Median</text>
<text x="369.00" y="172.20" font-size="5.3" text-anchor="start"><tspan font-style="italic">DLL3</tspan> TPM</text>
<rect x="204.90" y="256.20" width="14.50" height="12.20" fill="#2977c2" stroke="#9a9a9a" stroke-width="0.3"/>
<rect x="219.40" y="256.20" width="14.50" height="12.20" fill="#0a0c10" stroke="#9a9a9a" stroke-width="0.3"/>
<rect x="233.90" y="256.20" width="14.50" height="12.20" fill="#2872b8" stroke="#9a9a9a" stroke-width="0.3"/>
<rect x="248.40" y="256.20" width="14.50" height="12.20" fill="#0b0e14" stroke="#9a9a9a" stroke-width="0.3"/>
<rect x="262.90" y="256.20" width="14.50" height="12.20" fill="#2771b8" stroke="#9a9a9a" stroke-width="0.3"/>
<rect x="277.40" y="256.20" width="14.50" height="12.20" fill="#060708" stroke="#9a9a9a" stroke-width="0.3"/>
<rect x="291.90" y="256.20" width="14.50" height="12.20" fill="#2a7cc8" stroke="#9a9a9a" stroke-width="0.3"/>
<rect x="306.40" y="256.20" width="14.50" height="12.20" fill="#050608" stroke="#9a9a9a" stroke-width="0.3"/>
<rect x="320.90" y="256.20" width="14.50" height="12.20" fill="#0f3058" stroke="#9a9a9a" stroke-width="0.3"/>
<rect x="335.40" y="256.20" width="14.50" height="12.20" fill="#08090c" stroke="#9a9a9a" stroke-width="0.3"/>
<rect x="349.90" y="256.20" width="14.50" height="12.20" fill="#0b1f38" stroke="#9a9a9a" stroke-width="0.3"/>
<rect x="364.40" y="256.20" width="14.50" height="12.20" fill="#060708" stroke="#9a9a9a" stroke-width="0.3"/>
<rect x="204.90" y="268.40" width="14.50" height="12.20" fill="#2068a8" stroke="#9a9a9a" stroke-width="0.3"/>
<rect x="219.40" y="268.40" width="14.50" height="12.20" fill="#0d1420" stroke="#9a9a9a" stroke-width="0.3"/>
<rect x="233.90" y="268.40" width="14.50" height="12.20" fill="#5a9ad8" stroke="#9a9a9a" stroke-width="0.3"/>
<rect x="248.40" y="268.40" width="14.50" height="12.20" fill="#0f121c" stroke="#9a9a9a" stroke-width="0.3"/>
<rect x="262.90" y="268.40" width="14.50" height="12.20" fill="#1d5a92" stroke="#9a9a9a" stroke-width="0.3"/>
<rect x="277.40" y="268.40" width="14.50" height="12.20" fill="#0f121c" stroke="#9a9a9a" stroke-width="0.3"/>
<rect x="291.90" y="268.40" width="14.50" height="12.20" fill="#143d68" stroke="#9a9a9a" stroke-width="0.3"/>
<rect x="306.40" y="268.40" width="14.50" height="12.20" fill="#0d1118" stroke="#9a9a9a" stroke-width="0.3"/>
<rect x="320.90" y="268.40" width="14.50" height="12.20" fill="#0c2540" stroke="#9a9a9a" stroke-width="0.3"/>
<rect x="335.40" y="268.40" width="14.50" height="12.20" fill="#0c121a" stroke="#9a9a9a" stroke-width="0.3"/>
<rect x="349.90" y="268.40" width="14.50" height="12.20" fill="#0c1624" stroke="#9a9a9a" stroke-width="0.3"/>
<rect x="364.40" y="268.40" width="14.50" height="12.20" fill="#0b1018" stroke="#9a9a9a" stroke-width="0.3"/>
<rect x="204.90" y="280.60" width="14.50" height="12.20" fill="#070809" stroke="#9a9a9a" stroke-width="0.3"/>
<rect x="219.40" y="280.60" width="14.50" height="12.20" fill="#050506" stroke="#9a9a9a" stroke-width="0.3"/>
<rect x="233.90" y="280.60" width="14.50" height="12.20" fill="#070809" stroke="#9a9a9a" stroke-width="0.3"/>
<rect x="248.40" y="280.60" width="14.50" height="12.20" fill="#1d5a98" stroke="#9a9a9a" stroke-width="0.3"/>
<rect x="262.90" y="280.60" width="14.50" height="12.20" fill="#08090a" stroke="#9a9a9a" stroke-width="0.3"/>
<rect x="277.40" y="280.60" width="14.50" height="12.20" fill="#08090b" stroke="#9a9a9a" stroke-width="0.3"/>
<rect x="291.90" y="280.60" width="14.50" height="12.20" fill="#2468a8" stroke="#9a9a9a" stroke-width="0.3"/>
<rect x="306.40" y="280.60" width="14.50" height="12.20" fill="#080b10" stroke="#9a9a9a" stroke-width="0.3"/>
<rect x="320.90" y="280.60" width="14.50" height="12.20" fill="#10305a" stroke="#9a9a9a" stroke-width="0.3"/>
<rect x="335.40" y="280.60" width="14.50" height="12.20" fill="#163f6a" stroke="#9a9a9a" stroke-width="0.3"/>
<rect x="349.90" y="280.60" width="14.50" height="12.20" fill="#2570b5" stroke="#9a9a9a" stroke-width="0.3"/>
<rect x="364.40" y="280.60" width="14.50" height="12.20" fill="#3a8ad4" stroke="#9a9a9a" stroke-width="0.3"/>
<line x1="202.90" y1="262.30" x2="204.60" y2="262.30" stroke="#000" stroke-width="0.45"/>
<text x="202.30" y="264.30" font-size="5.7" text-anchor="end">DLL3</text>
<line x1="202.90" y1="274.50" x2="204.60" y2="274.50" stroke="#000" stroke-width="0.45"/>
<text x="202.30" y="276.50" font-size="5.7" text-anchor="end">ASCL1</text>
<line x1="202.90" y1="286.70" x2="204.60" y2="286.70" stroke="#000" stroke-width="0.45"/>
<text x="202.30" y="288.70" font-size="5.7" text-anchor="end">NEUROD1</text>
<line x1="208.20" y1="246.30" x2="229.60" y2="246.30" stroke="#555" stroke-width="0.6"/>
<text x="219.40" y="243.60" font-size="5.6" text-anchor="middle">Lung</text>
<text x="212.15" y="254.60" font-size="5.0" text-anchor="middle">High</text>
<text x="226.65" y="254.60" font-size="5.0" text-anchor="middle">Low</text>
<line x1="237.20" y1="246.30" x2="258.60" y2="246.30" stroke="#555" stroke-width="0.6"/>
<text x="248.40" y="243.60" font-size="5.6" text-anchor="middle">Prostate</text>
<text x="241.15" y="254.60" font-size="5.0" text-anchor="middle">High</text>
<text x="255.65" y="254.60" font-size="5.0" text-anchor="middle">Low</text>
<line x1="266.20" y1="246.30" x2="287.60" y2="246.30" stroke="#555" stroke-width="0.6"/>
<text x="277.40" y="243.60" font-size="5.6" text-anchor="middle">Bladder</text>
<text x="270.15" y="254.60" font-size="5.0" text-anchor="middle">High</text>
<text x="284.65" y="254.60" font-size="5.0" text-anchor="middle">Low</text>
<line x1="295.20" y1="246.30" x2="316.60" y2="246.30" stroke="#555" stroke-width="0.6"/>
<text x="306.40" y="243.60" font-size="5.6" text-anchor="middle">Stomach</text>
<text x="299.15" y="254.60" font-size="5.0" text-anchor="middle">High</text>
<text x="313.65" y="254.60" font-size="5.0" text-anchor="middle">Low</text>
<line x1="324.20" y1="246.30" x2="345.60" y2="246.30" stroke="#555" stroke-width="0.6"/>
<text x="335.40" y="243.60" font-size="5.6" text-anchor="middle">Pancreas</text>
<text x="328.15" y="254.60" font-size="5.0" text-anchor="middle">High</text>
<text x="342.65" y="254.60" font-size="5.0" text-anchor="middle">Low</text>
<line x1="352.40" y1="246.30" x2="373.80" y2="246.30" stroke="#555" stroke-width="0.6"/>
<text x="357.15" y="254.60" font-size="5.0" text-anchor="middle">High</text>
<text x="371.65" y="254.60" font-size="5.0" text-anchor="middle">Low</text>
<text x="363.00" y="236.60" font-size="5.6" text-anchor="middle">Small</text>
<text x="363.00" y="243.60" font-size="5.6" text-anchor="middle">bowel</text>
<rect x="382.00" y="268.80" width="4.40" height="23.80" fill="url(#gE)"/>
<line x1="382.00" y1="272.60" x2="383.00" y2="272.60" stroke="#fff" stroke-width="0.35"/>
<line x1="385.40" y1="272.60" x2="386.40" y2="272.60" stroke="#fff" stroke-width="0.35"/>
<text x="389.20" y="274.50" font-size="5.6" text-anchor="start">2</text>
<line x1="382.00" y1="279.80" x2="383.00" y2="279.80" stroke="#fff" stroke-width="0.35"/>
<line x1="385.40" y1="279.80" x2="386.40" y2="279.80" stroke="#fff" stroke-width="0.35"/>
<text x="389.20" y="281.70" font-size="5.6" text-anchor="start">1</text>
<line x1="382.00" y1="287.00" x2="383.00" y2="287.00" stroke="#fff" stroke-width="0.35"/>
<line x1="385.40" y1="287.00" x2="386.40" y2="287.00" stroke="#fff" stroke-width="0.35"/>
<text x="389.20" y="288.90" font-size="5.6" text-anchor="start">0</text>
<text x="381.80" y="260.30" font-size="5.0" text-anchor="start"><tspan font-style="italic">Z</tspan>-Score</text>
<text x="381.80" y="266.10" font-size="5.0" text-anchor="start">expression</text>
<text x="487.80" y="9.60" font-size="5.6" text-anchor="middle"><tspan font-style="italic">DLL3</tspan> high vs. low</text>
<text x="487.60" y="16.40" font-size="5.6" text-anchor="middle">Hazard ratio</text>
<rect x="461.4" y="31.4" width="54.10000000000002" height="263.6" fill="none" stroke="#000" stroke-width="0.5"/>
<line x1="461.40" y1="29.80" x2="461.40" y2="31.40" stroke="#000" stroke-width="0.45"/>
<text x="461.40" y="25.9" font-size="5.8" text-anchor="middle">10<tspan font-size="4.0" dy="-2.2">&#8722;2</tspan></text>
<line x1="474.90" y1="29.80" x2="474.90" y2="31.40" stroke="#000" stroke-width="0.45"/>
<text x="474.90" y="25.9" font-size="5.8" text-anchor="middle">10<tspan font-size="4.0" dy="-2.2">&#8722;1</tspan></text>
<line x1="488.40" y1="29.80" x2="488.40" y2="31.40" stroke="#000" stroke-width="0.45"/>
<text x="488.40" y="25.9" font-size="5.8" text-anchor="middle">10<tspan font-size="4.0" dy="-2.2">0</tspan></text>
<line x1="501.90" y1="29.80" x2="501.90" y2="31.40" stroke="#000" stroke-width="0.45"/>
<text x="501.90" y="25.9" font-size="5.8" text-anchor="middle">10<tspan font-size="4.0" dy="-2.2">1</tspan></text>
<line x1="515.40" y1="29.80" x2="515.40" y2="31.40" stroke="#000" stroke-width="0.45"/>
<text x="515.40" y="25.9" font-size="5.8" text-anchor="middle">10<tspan font-size="4.0" dy="-2.2">2</tspan></text>
<line x1="488.40" y1="31.40" x2="488.40" y2="295.00" stroke="#888" stroke-width="0.45"/>
<line x1="459.60" y1="37.30" x2="461.40" y2="37.30" stroke="#000" stroke-width="0.45"/>
<text x="456.90" y="39.30" font-size="5.9" text-anchor="end" letter-spacing="-0.1">All NENs</text>
<line x1="491.00" y1="37.30" x2="493.50" y2="37.30" stroke="#2a6fc0" stroke-width="0.45"/>
<line x1="491.00" y1="36.40" x2="491.00" y2="38.20" stroke="#2a6fc0" stroke-width="0.45"/>
<line x1="493.50" y1="36.40" x2="493.50" y2="38.20" stroke="#2a6fc0" stroke-width="0.45"/>
<circle cx="492.00" cy="37.30" r="1.10" fill="#2a6fc0"/>
<text x="492.00" y="37.00" font-size="4.6" text-anchor="middle">***</text>
<line x1="459.60" y1="48.77" x2="461.40" y2="48.77" stroke="#000" stroke-width="0.45"/>
<text x="456.90" y="50.77" font-size="5.9" text-anchor="end" letter-spacing="-0.1">Adrenal gland</text>
<line x1="483.75" y1="48.77" x2="493.00" y2="48.77" stroke="#000" stroke-width="0.45"/>
<line x1="483.75" y1="47.87" x2="483.75" y2="49.67" stroke="#000" stroke-width="0.45"/>
<line x1="493.00" y1="47.87" x2="493.00" y2="49.67" stroke="#000" stroke-width="0.45"/>
<circle cx="488.75" cy="48.77" r="1.30" fill="#000"/>
<line x1="459.60" y1="60.24" x2="461.40" y2="60.24" stroke="#000" stroke-width="0.45"/>
<text x="456.90" y="62.24" font-size="5.9" text-anchor="end" letter-spacing="-0.1">Anal</text>
<line x1="478.75" y1="60.24" x2="494.50" y2="60.24" stroke="#000" stroke-width="0.45"/>
<line x1="478.75" y1="59.34" x2="478.75" y2="61.14" stroke="#000" stroke-width="0.45"/>
<line x1="494.50" y1="59.34" x2="494.50" y2="61.14" stroke="#000" stroke-width="0.45"/>
<circle cx="486.25" cy="60.24" r="1.30" fill="#000"/>
<line x1="459.60" y1="71.71" x2="461.40" y2="71.71" stroke="#000" stroke-width="0.45"/>
<text x="456.90" y="73.71" font-size="5.9" text-anchor="end" letter-spacing="-0.1">Appendix</text>
<line x1="490.00" y1="71.71" x2="507.50" y2="71.71" stroke="#000" stroke-width="0.45"/>
<line x1="490.00" y1="70.81" x2="490.00" y2="72.61" stroke="#000" stroke-width="0.45"/>
<line x1="507.50" y1="70.81" x2="507.50" y2="72.61" stroke="#000" stroke-width="0.45"/>
<circle cx="498.75" cy="71.71" r="1.30" fill="#000"/>
<line x1="459.60" y1="83.18" x2="461.40" y2="83.18" stroke="#000" stroke-width="0.45"/>
<text x="456.90" y="85.18" font-size="5.9" text-anchor="end" letter-spacing="-0.1">Bile duct</text>
<line x1="479.50" y1="83.18" x2="493.00" y2="83.18" stroke="#000" stroke-width="0.45"/>
<line x1="479.50" y1="82.28" x2="479.50" y2="84.08" stroke="#000" stroke-width="0.45"/>
<line x1="493.00" y1="82.28" x2="493.00" y2="84.08" stroke="#000" stroke-width="0.45"/>
<circle cx="486.25" cy="83.18" r="1.30" fill="#000"/>
<line x1="459.60" y1="94.65" x2="461.40" y2="94.65" stroke="#000" stroke-width="0.45"/>
<text x="456.90" y="96.65" font-size="5.9" text-anchor="end" letter-spacing="-0.1">Bladder</text>
<line x1="480.50" y1="94.65" x2="488.25" y2="94.65" stroke="#000" stroke-width="0.45"/>
<line x1="480.50" y1="93.75" x2="480.50" y2="95.55" stroke="#000" stroke-width="0.45"/>
<line x1="488.25" y1="93.75" x2="488.25" y2="95.55" stroke="#000" stroke-width="0.45"/>
<circle cx="484.50" cy="94.65" r="1.30" fill="#000"/>
<line x1="459.60" y1="106.12" x2="461.40" y2="106.12" stroke="#000" stroke-width="0.45"/>
<text x="456.90" y="108.12" font-size="5.9" text-anchor="end" letter-spacing="-0.1">Breast</text>
<line x1="481.25" y1="106.12" x2="502.50" y2="106.12" stroke="#000" stroke-width="0.45"/>
<line x1="481.25" y1="105.22" x2="481.25" y2="107.02" stroke="#000" stroke-width="0.45"/>
<line x1="502.50" y1="105.22" x2="502.50" y2="107.02" stroke="#000" stroke-width="0.45"/>
<circle cx="491.75" cy="106.12" r="1.30" fill="#000"/>
<line x1="459.60" y1="117.59" x2="461.40" y2="117.59" stroke="#000" stroke-width="0.45"/>
<text x="456.90" y="119.59" font-size="5.9" text-anchor="end" letter-spacing="-0.1">Colorectal</text>
<line x1="487.00" y1="117.59" x2="491.25" y2="117.59" stroke="#000" stroke-width="0.45"/>
<line x1="487.00" y1="116.69" x2="487.00" y2="118.49" stroke="#000" stroke-width="0.45"/>
<line x1="491.25" y1="116.69" x2="491.25" y2="118.49" stroke="#000" stroke-width="0.45"/>
<circle cx="489.25" cy="117.59" r="1.30" fill="#000"/>
<line x1="459.60" y1="129.06" x2="461.40" y2="129.06" stroke="#000" stroke-width="0.45"/>
<text x="456.90" y="131.06" font-size="5.9" text-anchor="end" letter-spacing="-0.1">Esophagus</text>
<line x1="486.25" y1="129.06" x2="497.50" y2="129.06" stroke="#000" stroke-width="0.45"/>
<line x1="486.25" y1="128.16" x2="486.25" y2="129.96" stroke="#000" stroke-width="0.45"/>
<line x1="497.50" y1="128.16" x2="497.50" y2="129.96" stroke="#000" stroke-width="0.45"/>
<circle cx="491.75" cy="129.06" r="1.30" fill="#000"/>
<line x1="459.60" y1="140.53" x2="461.40" y2="140.53" stroke="#000" stroke-width="0.45"/>
<text x="456.90" y="142.53" font-size="5.9" text-anchor="end" letter-spacing="-0.1">GI tract</text>
<line x1="487.50" y1="140.53" x2="499.25" y2="140.53" stroke="#000" stroke-width="0.45"/>
<line x1="487.50" y1="139.63" x2="487.50" y2="141.43" stroke="#000" stroke-width="0.45"/>
<line x1="499.25" y1="139.63" x2="499.25" y2="141.43" stroke="#000" stroke-width="0.45"/>
<circle cx="493.00" cy="140.53" r="1.30" fill="#000"/>
<line x1="459.60" y1="152.00" x2="461.40" y2="152.00" stroke="#000" stroke-width="0.45"/>
<text x="456.90" y="154.00" font-size="5.9" text-anchor="end" letter-spacing="-0.1">GYN organ</text>
<line x1="485.75" y1="152.00" x2="492.50" y2="152.00" stroke="#000" stroke-width="0.45"/>
<line x1="485.75" y1="151.10" x2="485.75" y2="152.90" stroke="#000" stroke-width="0.45"/>
<line x1="492.50" y1="151.10" x2="492.50" y2="152.90" stroke="#000" stroke-width="0.45"/>
<circle cx="488.75" cy="152.00" r="1.30" fill="#000"/>
<line x1="459.60" y1="163.47" x2="461.40" y2="163.47" stroke="#000" stroke-width="0.45"/>
<text x="456.90" y="165.47" font-size="5.9" text-anchor="end" letter-spacing="-0.1">Head and neck</text>
<line x1="487.00" y1="163.47" x2="499.25" y2="163.47" stroke="#000" stroke-width="0.45"/>
<line x1="487.00" y1="162.57" x2="487.00" y2="164.37" stroke="#000" stroke-width="0.45"/>
<line x1="499.25" y1="162.57" x2="499.25" y2="164.37" stroke="#000" stroke-width="0.45"/>
<circle cx="492.50" cy="163.47" r="1.30" fill="#000"/>
<line x1="459.60" y1="174.94" x2="461.40" y2="174.94" stroke="#000" stroke-width="0.45"/>
<text x="456.90" y="176.94" font-size="5.9" text-anchor="end" letter-spacing="-0.1">Ileocecal junction</text>
<line x1="479.50" y1="174.94" x2="501.25" y2="174.94" stroke="#000" stroke-width="0.45"/>
<line x1="479.50" y1="174.04" x2="479.50" y2="175.84" stroke="#000" stroke-width="0.45"/>
<line x1="501.25" y1="174.04" x2="501.25" y2="175.84" stroke="#000" stroke-width="0.45"/>
<circle cx="490.00" cy="174.94" r="1.30" fill="#000"/>
<line x1="459.60" y1="186.41" x2="461.40" y2="186.41" stroke="#000" stroke-width="0.45"/>
<text x="456.90" y="188.41" font-size="5.9" text-anchor="end" letter-spacing="-0.1">Liver</text>
<line x1="485.50" y1="186.41" x2="501.75" y2="186.41" stroke="#000" stroke-width="0.45"/>
<line x1="485.50" y1="185.51" x2="485.50" y2="187.31" stroke="#000" stroke-width="0.45"/>
<line x1="501.75" y1="185.51" x2="501.75" y2="187.31" stroke="#000" stroke-width="0.45"/>
<circle cx="493.25" cy="186.41" r="1.30" fill="#000"/>
<line x1="459.60" y1="197.88" x2="461.40" y2="197.88" stroke="#000" stroke-width="0.45"/>
<text x="456.90" y="199.88" font-size="5.9" text-anchor="end" letter-spacing="-0.1">Lung</text>
<line x1="490.75" y1="197.88" x2="499.25" y2="197.88" stroke="#2a6fc0" stroke-width="0.45"/>
<line x1="490.75" y1="196.98" x2="490.75" y2="198.78" stroke="#2a6fc0" stroke-width="0.45"/>
<line x1="499.25" y1="196.98" x2="499.25" y2="198.78" stroke="#2a6fc0" stroke-width="0.45"/>
<circle cx="494.50" cy="197.88" r="1.10" fill="#2a6fc0"/>
<text x="494.50" y="197.58" font-size="4.6" text-anchor="middle">**</text>
<line x1="459.60" y1="209.35" x2="461.40" y2="209.35" stroke="#000" stroke-width="0.45"/>
<text x="456.90" y="211.35" font-size="5.9" text-anchor="end" letter-spacing="-0.1">Nervous system</text>
<line x1="484.50" y1="209.35" x2="503.75" y2="209.35" stroke="#000" stroke-width="0.45"/>
<line x1="484.50" y1="208.45" x2="484.50" y2="210.25" stroke="#000" stroke-width="0.45"/>
<line x1="503.75" y1="208.45" x2="503.75" y2="210.25" stroke="#000" stroke-width="0.45"/>
<circle cx="493.75" cy="209.35" r="1.30" fill="#000"/>
<line x1="459.60" y1="220.82" x2="461.40" y2="220.82" stroke="#000" stroke-width="0.45"/>
<text x="456.90" y="222.82" font-size="5.9" text-anchor="end" letter-spacing="-0.1">Pancreas</text>
<line x1="490.75" y1="220.82" x2="496.25" y2="220.82" stroke="#2a6fc0" stroke-width="0.45"/>
<line x1="490.75" y1="219.92" x2="490.75" y2="221.72" stroke="#2a6fc0" stroke-width="0.45"/>
<line x1="496.25" y1="219.92" x2="496.25" y2="221.72" stroke="#2a6fc0" stroke-width="0.45"/>
<circle cx="493.25" cy="220.82" r="1.10" fill="#2a6fc0"/>
<text x="493.25" y="220.52" font-size="4.6" text-anchor="middle">**</text>
<line x1="459.60" y1="232.29" x2="461.40" y2="232.29" stroke="#000" stroke-width="0.45"/>
<text x="456.90" y="234.29" font-size="5.9" text-anchor="end" letter-spacing="-0.1">Prostate</text>
<line x1="486.25" y1="232.29" x2="493.75" y2="232.29" stroke="#000" stroke-width="0.45"/>
<line x1="486.25" y1="231.39" x2="486.25" y2="233.19" stroke="#000" stroke-width="0.45"/>
<line x1="493.75" y1="231.39" x2="493.75" y2="233.19" stroke="#000" stroke-width="0.45"/>
<circle cx="490.00" cy="232.29" r="1.30" fill="#000"/>
<line x1="459.60" y1="243.76" x2="461.40" y2="243.76" stroke="#000" stroke-width="0.45"/>
<text x="456.90" y="245.76" font-size="5.9" text-anchor="end" letter-spacing="-0.1">Small bowel</text>
<line x1="490.00" y1="243.76" x2="497.50" y2="243.76" stroke="#2a6fc0" stroke-width="0.45"/>
<line x1="490.00" y1="242.86" x2="490.00" y2="244.66" stroke="#2a6fc0" stroke-width="0.45"/>
<line x1="497.50" y1="242.86" x2="497.50" y2="244.66" stroke="#2a6fc0" stroke-width="0.45"/>
<circle cx="493.25" cy="243.76" r="1.10" fill="#2a6fc0"/>
<text x="493.25" y="243.46" font-size="4.6" text-anchor="middle">*</text>
<line x1="459.60" y1="255.23" x2="461.40" y2="255.23" stroke="#000" stroke-width="0.45"/>
<text x="456.90" y="257.23" font-size="5.9" text-anchor="end" letter-spacing="-0.1">Stomach</text>
<line x1="490.00" y1="255.23" x2="499.50" y2="255.23" stroke="#000" stroke-width="0.45"/>
<line x1="490.00" y1="254.33" x2="490.00" y2="256.13" stroke="#000" stroke-width="0.45"/>
<line x1="499.50" y1="254.33" x2="499.50" y2="256.13" stroke="#000" stroke-width="0.45"/>
<circle cx="494.50" cy="255.23" r="1.30" fill="#000"/>
<line x1="459.60" y1="266.70" x2="461.40" y2="266.70" stroke="#000" stroke-width="0.45"/>
<text x="456.90" y="268.70" font-size="5.9" text-anchor="end" letter-spacing="-0.1">Thyroid</text>
<line x1="465.00" y1="266.70" x2="498.75" y2="266.70" stroke="#000" stroke-width="0.45"/>
<line x1="465.00" y1="265.80" x2="465.00" y2="267.60" stroke="#000" stroke-width="0.45"/>
<line x1="498.75" y1="265.80" x2="498.75" y2="267.60" stroke="#000" stroke-width="0.45"/>
<circle cx="482.00" cy="266.70" r="1.30" fill="#000"/>
<line x1="459.60" y1="278.17" x2="461.40" y2="278.17" stroke="#000" stroke-width="0.45"/>
<text x="456.90" y="280.17" font-size="5.9" text-anchor="end" letter-spacing="-0.1">Unclear/other</text>
<line x1="482.50" y1="278.17" x2="495.50" y2="278.17" stroke="#000" stroke-width="0.45"/>
<line x1="482.50" y1="277.27" x2="482.50" y2="279.07" stroke="#000" stroke-width="0.45"/>
<line x1="495.50" y1="277.27" x2="495.50" y2="279.07" stroke="#000" stroke-width="0.45"/>
<circle cx="488.75" cy="278.17" r="1.30" fill="#000"/>
<line x1="459.60" y1="289.64" x2="461.40" y2="289.64" stroke="#000" stroke-width="0.45"/>
<text x="456.90" y="291.64" font-size="5.9" text-anchor="end" letter-spacing="-0.1">Unknown primary</text>
<line x1="490.75" y1="289.64" x2="494.50" y2="289.64" stroke="#2a6fc0" stroke-width="0.45"/>
<line x1="490.75" y1="288.74" x2="490.75" y2="290.54" stroke="#2a6fc0" stroke-width="0.45"/>
<line x1="494.50" y1="288.74" x2="494.50" y2="290.54" stroke="#2a6fc0" stroke-width="0.45"/>
<circle cx="492.50" cy="289.64" r="1.10" fill="#2a6fc0"/>
<text x="492.50" y="289.34" font-size="4.6" text-anchor="middle">***</text>
</svg>
</body></html>
